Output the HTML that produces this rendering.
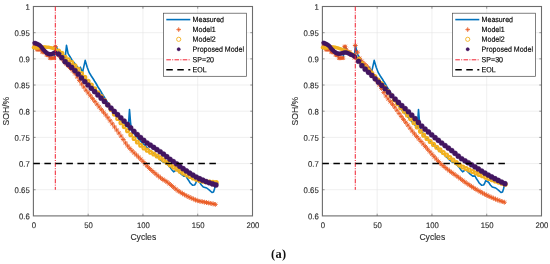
<!DOCTYPE html>
<html><head><meta charset="utf-8"><title>SOH prediction</title>
<style>
html,body{margin:0;padding:0;background:#fff}
svg{display:block}
text{font-family:"Liberation Sans",sans-serif;fill:#2a2a2a}
.t{font-size:8.1px;stroke:#2a2a2a;stroke-width:.12px}
.l{font-size:8.6px;stroke:#2a2a2a;stroke-width:.12px}
.lt{font-size:7.6px;fill:#000;stroke:#000;stroke-width:.15px}
.g{stroke:#e4e4e4;stroke-width:.6}
.box{fill:none;stroke:#6c6c6c;stroke-width:1.1}
.tk{stroke:#555;stroke-width:.6;fill:none}
.bl{fill:none;stroke:#0072bd;stroke-width:1.6;stroke-linejoin:round}
.or{fill:none;stroke:#ea5a22;stroke-width:.9}
.ye circle{fill:none;stroke:#f2b01e;stroke-width:2.1}.ye1{fill:none;stroke:#f2b01e;stroke-width:.9}
.pu circle,circle.pu{fill:#421560;stroke:#421560;stroke-width:.3}
.sp{stroke:#f0202f;stroke-width:1;stroke-dasharray:4.6 1.3 1 1.3}
.eol{stroke:#000;stroke-width:1.6;stroke-dasharray:6.5 4.5}
.lg{fill:#fff;stroke:#4a4a4a;stroke-width:.7}
.cap{font-family:"Liberation Serif",serif;font-weight:bold;font-size:12.4px;letter-spacing:.4px;fill:#111}
</style></head><body>
<svg width="550" height="264" viewBox="0 0 550 264">
<rect width="550" height="264" fill="#fff"/>
<g transform="translate(0,0)">
<line x1="88.17" y1="6.5" x2="88.17" y2="215.9" class="g"/>
<line x1="142.95" y1="6.5" x2="142.95" y2="215.9" class="g"/>
<line x1="197.72" y1="6.5" x2="197.72" y2="215.9" class="g"/>
<line x1="33.4" y1="189.72" x2="252.5" y2="189.72" class="g"/>
<line x1="33.4" y1="163.55" x2="252.5" y2="163.55" class="g"/>
<line x1="33.4" y1="137.38" x2="252.5" y2="137.38" class="g"/>
<line x1="33.4" y1="111.2" x2="252.5" y2="111.2" class="g"/>
<line x1="33.4" y1="85.03" x2="252.5" y2="85.03" class="g"/>
<line x1="33.4" y1="58.85" x2="252.5" y2="58.85" class="g"/>
<line x1="33.4" y1="32.68" x2="252.5" y2="32.68" class="g"/>
<rect x="33.4" y="6.5" width="219.1" height="209.4" class="box"/>
<path d="M88.17 215.9v-2.2M88.17 6.5v2.2M142.95 215.9v-2.2M142.95 6.5v2.2M197.72 215.9v-2.2M197.72 6.5v2.2M33.4 189.72h2.2M252.5 189.72h-2.2M33.4 163.55h2.2M252.5 163.55h-2.2M33.4 137.38h2.2M252.5 137.38h-2.2M33.4 111.2h2.2M252.5 111.2h-2.2M33.4 85.03h2.2M252.5 85.03h-2.2M33.4 58.85h2.2M252.5 58.85h-2.2M33.4 32.68h2.2M252.5 32.68h-2.2" class="tk"/>
<text transform="translate(33.8,228) scale(0.96,1) rotate(0.05)" class="t" text-anchor="middle">0</text>
<text transform="translate(88.58,228) scale(0.96,1) rotate(0.05)" class="t" text-anchor="middle">50</text>
<text transform="translate(143.35,228) scale(0.96,1) rotate(0.05)" class="t" text-anchor="middle">100</text>
<text transform="translate(198.12,228) scale(0.96,1) rotate(0.05)" class="t" text-anchor="middle">150</text>
<text transform="translate(252.9,228) scale(0.96,1) rotate(0.05)" class="t" text-anchor="middle">200</text>
<text transform="translate(29.7,219.2) scale(0.96,1) rotate(0.05)" class="t" text-anchor="end">0.6</text>
<text transform="translate(29.7,193.03) scale(0.96,1) rotate(0.05)" class="t" text-anchor="end">0.65</text>
<text transform="translate(29.7,166.85) scale(0.96,1) rotate(0.05)" class="t" text-anchor="end">0.7</text>
<text transform="translate(29.7,140.68) scale(0.96,1) rotate(0.05)" class="t" text-anchor="end">0.75</text>
<text transform="translate(29.7,114.5) scale(0.96,1) rotate(0.05)" class="t" text-anchor="end">0.8</text>
<text transform="translate(29.7,88.33) scale(0.96,1) rotate(0.05)" class="t" text-anchor="end">0.85</text>
<text transform="translate(29.7,62.15) scale(0.96,1) rotate(0.05)" class="t" text-anchor="end">0.9</text>
<text transform="translate(29.7,35.98) scale(0.96,1) rotate(0.05)" class="t" text-anchor="end">0.95</text>
<text transform="translate(29.7,9.8) scale(0.96,1) rotate(0.05)" class="t" text-anchor="end">1</text>
<text x="143.3" y="239.6" class="l" text-anchor="middle">Cycles</text>
<text transform="translate(8.9,111.2) rotate(-90)" class="l" text-anchor="middle">SOH/%</text>
<polyline class="bl" points="34.5,44.03 35.59,46.7 36.69,49.58 37.78,49.58 38.88,49.79 39.97,49.48 41.07,49.64 42.16,52.1 43.26,52.36 44.35,52.41 45.45,52.41 46.55,55.13 47.64,55.24 48.74,55.34 49.83,58.17 50.93,58.27 52.02,58.17 53.12,58.01 54.21,58.12 55.31,46.55 56.41,46.5 57.5,49.43 58.6,52.1 59.69,52.25 60.79,52.15 61.88,55.13 62.98,55.08 64.07,55.29 65.17,57.8 66.5,45.4 68.1,53.6 70.2,57 72.2,60.4 75,63.8 77,66.5 79,68.6 80.4,67.2 81.5,70 82.5,72.7 85.2,60.4 87.2,67.2 89.3,72.7 91.3,76 93,78.5 94.5,81 96.25,83.75 98,87 100,90 102,93.5 104,96.7 106,100 108,103.5 112,109 118,116 124,123 128.3,127.5 129.5,109.5 130.5,122 131.5,130 136,136 141,141.5 146,146.5 150,150.5 156,155.5 160,159.5 164,162.5 166,161.8 168,165 170.2,167.4 172,170 173.6,171.8 175.5,170.5 177.1,170 179,172 181.5,174.4 184.1,176.3 185.8,175.5 187,178 188.5,180.2 190.2,183 192.5,185.2 194.6,185 195.6,183.5 196.6,180.8 198,181.2 199.8,182.5 201.4,185 203.3,187 206.7,188 209.4,190.2 212,192.5 213.5,192 214.5,189 215.3,185.5"/>
<path class="or" style="stroke-width:.75" d="M32.5 44.03h4M34.5 42.03v4M32.8 42.34l3.39 3.39M32.8 45.73l3.39 -3.39M33.59 46.7h4M35.59 44.7v4M33.89 45.01l3.39 3.39M33.89 48.4l3.39 -3.39M34.69 49.58h4M36.69 47.58v4M34.99 47.89l3.39 3.39M34.99 51.28l3.39 -3.39M35.78 49.58h4M37.78 47.58v4M36.08 47.89l3.39 3.39M36.08 51.28l3.39 -3.39M36.88 49.79h4M38.88 47.79v4M37.18 48.1l3.39 3.39M37.18 51.49l3.39 -3.39M37.97 49.48h4M39.97 47.48v4M38.28 47.78l3.39 3.39M38.28 51.18l3.39 -3.39M39.07 49.64h4M41.07 47.64v4M39.37 47.94l3.39 3.39M39.37 51.33l3.39 -3.39M40.16 52.1h4M42.16 50.1v4M40.47 50.4l3.39 3.39M40.47 53.79l3.39 -3.39M41.26 52.36h4M43.26 50.36v4M41.56 50.66l3.39 3.39M41.56 54.06l3.39 -3.39M42.35 52.41h4M44.35 50.41v4M42.66 50.71l3.39 3.39M42.66 54.11l3.39 -3.39M43.45 52.41h4M45.45 50.41v4M43.75 50.71l3.39 3.39M43.75 54.11l3.39 -3.39M44.55 55.13h4M46.55 53.13v4M44.85 53.44l3.39 3.39M44.85 56.83l3.39 -3.39M45.64 55.24h4M47.64 53.24v4M45.94 53.54l3.39 3.39M45.94 56.93l3.39 -3.39M46.74 55.34h4M48.74 53.34v4M47.04 53.65l3.39 3.39M47.04 57.04l3.39 -3.39M47.83 58.17h4M49.83 56.17v4M48.14 56.47l3.39 3.39M48.14 59.87l3.39 -3.39M48.93 58.27h4M50.93 56.27v4M49.23 56.58l3.39 3.39M49.23 59.97l3.39 -3.39M50.02 58.17h4M52.02 56.17v4M50.33 56.47l3.39 3.39M50.33 59.87l3.39 -3.39M51.12 58.01h4M53.12 56.01v4M51.42 56.32l3.39 3.39M51.42 59.71l3.39 -3.39M52.21 58.12h4M54.21 56.12v4M52.52 56.42l3.39 3.39M52.52 59.81l3.39 -3.39"/>
<path class="or" d="M52.91 46.55h4.8M55.31 44.15v4.8M53.61 44.85l3.39 3.39M53.61 48.24l3.39 -3.39M55.11 54.01h4.8M57.51 51.61v4.8M55.81 52.31l3.39 3.39M55.81 55.71l3.39 -3.39M57.3 56.2h4.8M59.7 53.8v4.8M58 54.5l3.39 3.39M58 57.89l3.39 -3.39M59.49 58.68h4.8M61.89 56.28v4.8M60.19 56.98l3.39 3.39M60.19 60.37l3.39 -3.39M61.68 61.34h4.8M64.08 58.94v4.8M62.38 59.64l3.39 3.39M62.38 63.04l3.39 -3.39M63.87 64.08h4.8M66.27 61.68v4.8M64.58 62.38l3.39 3.39M64.58 65.78l3.39 -3.39M66.06 66.36h4.8M68.46 63.96v4.8M66.77 64.67l3.39 3.39M66.77 68.06l3.39 -3.39M68.26 68.45h4.8M70.66 66.05v4.8M68.96 66.75l3.39 3.39M68.96 70.14l3.39 -3.39M70.45 70.8h4.8M72.85 68.4v4.8M71.15 69.11l3.39 3.39M71.15 72.5l3.39 -3.39M72.64 73.65h4.8M75.04 71.25v4.8M73.34 71.95l3.39 3.39M73.34 75.35l3.39 -3.39M74.83 77.08h4.8M77.23 74.68v4.8M75.53 75.38l3.39 3.39M75.53 78.78l3.39 -3.39M77.02 80.56h4.8M79.42 78.16v4.8M77.73 78.86l3.39 3.39M77.73 82.26l3.39 -3.39M79.21 83.97h4.8M81.61 81.57v4.8M79.92 82.27l3.39 3.39M79.92 85.66l3.39 -3.39M81.41 87.01h4.8M83.81 84.61v4.8M82.11 85.31l3.39 3.39M82.11 88.7l3.39 -3.39M83.6 90.22h4.8M86 87.82v4.8M84.3 88.52l3.39 3.39M84.3 91.91l3.39 -3.39M85.79 92.94h4.8M88.19 90.54v4.8M86.49 91.24l3.39 3.39M86.49 94.64l3.39 -3.39M87.98 95.74h4.8M90.38 93.34v4.8M88.68 94.04l3.39 3.39M88.68 97.44l3.39 -3.39M90.17 98.59h4.8M92.57 96.19v4.8M90.87 96.89l3.39 3.39M90.87 100.29l3.39 -3.39M92.36 101.4h4.8M94.76 99v4.8M93.07 99.7l3.39 3.39M93.07 103.09l3.39 -3.39M94.55 104.18h4.8M96.95 101.78v4.8M95.26 102.49l3.39 3.39M95.26 105.88l3.39 -3.39M96.75 106.94h4.8M99.15 104.54v4.8M97.45 105.24l3.39 3.39M97.45 108.64l3.39 -3.39M98.94 109.63h4.8M101.34 107.23v4.8M99.64 107.93l3.39 3.39M99.64 111.33l3.39 -3.39M101.13 112.24h4.8M103.53 109.84v4.8M101.83 110.54l3.39 3.39M101.83 113.93l3.39 -3.39M103.32 114.88h4.8M105.72 112.48v4.8M104.02 113.18l3.39 3.39M104.02 116.58l3.39 -3.39M105.51 117.71h4.8M107.91 115.31v4.8M106.22 116.01l3.39 3.39M106.22 119.41l3.39 -3.39M107.7 120.75h4.8M110.1 118.35v4.8M108.41 119.05l3.39 3.39M108.41 122.44l3.39 -3.39M109.9 123.82h4.8M112.3 121.42v4.8M110.6 122.12l3.39 3.39M110.6 125.51l3.39 -3.39M112.09 126.92h4.8M114.49 124.52v4.8M112.79 125.22l3.39 3.39M112.79 128.62l3.39 -3.39M114.28 129.99h4.8M116.68 127.59v4.8M114.98 128.29l3.39 3.39M114.98 131.68l3.39 -3.39M116.47 133.04h4.8M118.87 130.64v4.8M117.17 131.34l3.39 3.39M117.17 134.73l3.39 -3.39M118.66 136.15h4.8M121.06 133.75v4.8M119.37 134.46l3.39 3.39M119.37 137.85l3.39 -3.39M120.85 139.5h4.8M123.25 137.1v4.8M121.56 137.81l3.39 3.39M121.56 141.2l3.39 -3.39M123.05 142.89h4.8M125.45 140.49v4.8M123.75 141.2l3.39 3.39M123.75 144.59l3.39 -3.39M125.24 145.82h4.8M127.64 143.42v4.8M125.94 144.12l3.39 3.39M125.94 147.51l3.39 -3.39M127.43 148.4h4.8M129.83 146v4.8M128.13 146.7l3.39 3.39M128.13 150.1l3.39 -3.39M129.62 150.78h4.8M132.02 148.38v4.8M130.32 149.08l3.39 3.39M130.32 152.48l3.39 -3.39M131.81 153h4.8M134.21 150.6v4.8M132.51 151.3l3.39 3.39M132.51 154.7l3.39 -3.39M134 155.02h4.8M136.4 152.62v4.8M134.71 153.32l3.39 3.39M134.71 156.72l3.39 -3.39M136.19 157.07h4.8M138.59 154.67v4.8M136.9 155.37l3.39 3.39M136.9 158.77l3.39 -3.39M138.39 159.17h4.8M140.79 156.77v4.8M139.09 157.48l3.39 3.39M139.09 160.87l3.39 -3.39M140.58 161.38h4.8M142.98 158.98v4.8M141.28 159.68l3.39 3.39M141.28 163.08l3.39 -3.39M142.77 163.8h4.8M145.17 161.4v4.8M143.47 162.1l3.39 3.39M143.47 165.5l3.39 -3.39M144.96 166.31h4.8M147.36 163.91v4.8M145.66 164.61l3.39 3.39M145.66 168.01l3.39 -3.39M147.15 168.52h4.8M149.55 166.12v4.8M147.86 166.82l3.39 3.39M147.86 170.22l3.39 -3.39M149.34 170.51h4.8M151.74 168.11v4.8M150.05 168.81l3.39 3.39M150.05 172.2l3.39 -3.39M151.54 172.38h4.8M153.94 169.98v4.8M152.24 170.69l3.39 3.39M152.24 174.08l3.39 -3.39M153.73 174.24h4.8M156.13 171.84v4.8M154.43 172.54l3.39 3.39M154.43 175.94l3.39 -3.39M155.92 176.07h4.8M158.32 173.67v4.8M156.62 174.37l3.39 3.39M156.62 177.77l3.39 -3.39M158.11 177.79h4.8M160.51 175.39v4.8M158.81 176.09l3.39 3.39M158.81 179.48l3.39 -3.39M160.3 179.29h4.8M162.7 176.89v4.8M161.01 177.59l3.39 3.39M161.01 180.98l3.39 -3.39M162.49 180.6h4.8M164.89 178.2v4.8M163.2 178.9l3.39 3.39M163.2 182.29l3.39 -3.39M164.69 182.06h4.8M167.09 179.66v4.8M165.39 180.36l3.39 3.39M165.39 183.76l3.39 -3.39M166.88 183.75h4.8M169.28 181.35v4.8M167.58 182.05l3.39 3.39M167.58 185.44l3.39 -3.39M169.07 185.5h4.8M171.47 183.1v4.8M169.77 183.8l3.39 3.39M169.77 187.19l3.39 -3.39M171.26 187.29h4.8M173.66 184.89v4.8M171.96 185.59l3.39 3.39M171.96 188.99l3.39 -3.39M173.45 189.12h4.8M175.85 186.72v4.8M174.15 187.42l3.39 3.39M174.15 190.82l3.39 -3.39M175.64 190.79h4.8M178.04 188.39v4.8M176.35 189.09l3.39 3.39M176.35 192.49l3.39 -3.39M177.83 192.22h4.8M180.23 189.82v4.8M178.54 190.53l3.39 3.39M178.54 193.92l3.39 -3.39M180.03 193.53h4.8M182.43 191.13v4.8M180.73 191.83l3.39 3.39M180.73 195.22l3.39 -3.39M182.22 194.75h4.8M184.62 192.35v4.8M182.92 193.05l3.39 3.39M182.92 196.44l3.39 -3.39M184.41 195.92h4.8M186.81 193.52v4.8M185.11 194.22l3.39 3.39M185.11 197.62l3.39 -3.39M186.6 197.03h4.8M189 194.63v4.8M187.3 195.34l3.39 3.39M187.3 198.73l3.39 -3.39M188.79 198.06h4.8M191.19 195.66v4.8M189.5 196.37l3.39 3.39M189.5 199.76l3.39 -3.39M190.98 199.03h4.8M193.38 196.63v4.8M191.69 197.34l3.39 3.39M191.69 200.73l3.39 -3.39M193.18 199.95h4.8M195.58 197.55v4.8M193.88 198.25l3.39 3.39M193.88 201.64l3.39 -3.39M195.37 200.71h4.8M197.77 198.31v4.8M196.07 199.01l3.39 3.39M196.07 202.4l3.39 -3.39M197.56 201.26h4.8M199.96 198.86v4.8M198.26 199.56l3.39 3.39M198.26 202.96l3.39 -3.39M199.75 201.71h4.8M202.15 199.31v4.8M200.45 200.01l3.39 3.39M200.45 203.4l3.39 -3.39M201.94 202.13h4.8M204.34 199.73v4.8M202.65 200.43l3.39 3.39M202.65 203.83l3.39 -3.39M204.13 202.56h4.8M206.53 200.16v4.8M204.84 200.86l3.39 3.39M204.84 204.25l3.39 -3.39M206.33 202.97h4.8M208.73 200.57v4.8M207.03 201.27l3.39 3.39M207.03 204.66l3.39 -3.39M208.52 203.4h4.8M210.92 201v4.8M209.22 201.7l3.39 3.39M209.22 205.09l3.39 -3.39M210.71 203.89h4.8M213.11 201.49v4.8M211.41 202.19l3.39 3.39M211.41 205.58l3.39 -3.39M212.9 204.42h4.8M215.3 202.02v4.8M213.6 202.72l3.39 3.39M213.6 206.12l3.39 -3.39"/>
<g class="ye">
<circle cx="33.4" cy="47.6" r="1.1" style="stroke-width:1.3"/>
<circle cx="34.5" cy="47.85" r="1.1" style="stroke-width:1.3"/>
<circle cx="35.59" cy="47.99" r="1.1" style="stroke-width:1.3"/>
<circle cx="36.69" cy="47.98" r="1.1" style="stroke-width:1.3"/>
<circle cx="37.78" cy="47.88" r="1.1" style="stroke-width:1.3"/>
<circle cx="38.88" cy="47.74" r="1.1" style="stroke-width:1.3"/>
<circle cx="39.97" cy="47.41" r="1.1" style="stroke-width:1.3"/>
<circle cx="41.07" cy="47.09" r="1.1" style="stroke-width:1.3"/>
<circle cx="42.16" cy="47" r="1.1" style="stroke-width:1.3"/>
<circle cx="43.26" cy="47.02" r="1.1" style="stroke-width:1.3"/>
<circle cx="44.35" cy="47.06" r="1.1" style="stroke-width:1.3"/>
<circle cx="45.45" cy="47.11" r="1.1" style="stroke-width:1.3"/>
<circle cx="46.55" cy="47.18" r="1.1" style="stroke-width:1.3"/>
<circle cx="47.64" cy="47.26" r="1.1" style="stroke-width:1.3"/>
<circle cx="48.74" cy="47.35" r="1.1" style="stroke-width:1.3"/>
<circle cx="49.83" cy="47.53" r="1.1" style="stroke-width:1.3"/>
<circle cx="50.93" cy="47.77" r="1.1" style="stroke-width:1.3"/>
<circle cx="52.02" cy="48.08" r="1.1" style="stroke-width:1.3"/>
<circle cx="53.12" cy="48.42" r="1.1" style="stroke-width:1.3"/>
<circle cx="54.21" cy="48.8" r="1.1" style="stroke-width:1.3"/>
<circle cx="55.31" cy="49.23" r="1.1" style="stroke-width:1.3"/>
<circle cx="58.55" cy="51.07" r="1.5"/>
<circle cx="61.83" cy="53.22" r="1.5"/>
<circle cx="65.12" cy="57.32" r="1.5"/>
<circle cx="68.4" cy="59.75" r="1.5"/>
<circle cx="71.69" cy="62.43" r="1.5"/>
<circle cx="74.97" cy="65.71" r="1.5"/>
<circle cx="78.26" cy="69.4" r="1.5"/>
<circle cx="81.54" cy="73.45" r="1.5"/>
<circle cx="84.82" cy="77.41" r="1.5"/>
<circle cx="88.11" cy="81.3" r="1.5"/>
<circle cx="91.39" cy="85.12" r="1.5"/>
<circle cx="94.68" cy="88.9" r="1.5"/>
<circle cx="97.96" cy="92.75" r="1.5"/>
<circle cx="101.25" cy="96.64" r="1.5"/>
<circle cx="104.53" cy="100.64" r="1.5"/>
<circle cx="107.82" cy="104.87" r="1.5"/>
<circle cx="111.1" cy="109.51" r="1.5"/>
<circle cx="114.38" cy="114.08" r="1.5"/>
<circle cx="117.67" cy="118.52" r="1.5"/>
<circle cx="120.95" cy="122.71" r="1.5"/>
<circle cx="124.24" cy="126.59" r="1.5"/>
<circle cx="127.52" cy="130.65" r="1.5"/>
<circle cx="130.81" cy="134.75" r="1.5"/>
<circle cx="134.09" cy="138.55" r="1.5"/>
<circle cx="137.37" cy="142.06" r="1.5"/>
<circle cx="140.66" cy="145.18" r="1.5"/>
<circle cx="143.94" cy="147.96" r="1.5"/>
<circle cx="147.23" cy="150.31" r="1.5"/>
<circle cx="150.51" cy="152.21" r="1.5"/>
<circle cx="153.8" cy="154.05" r="1.5"/>
<circle cx="157.08" cy="155.93" r="1.5"/>
<circle cx="160.37" cy="157.92" r="1.5"/>
<circle cx="163.65" cy="160.11" r="1.5"/>
<circle cx="166.93" cy="162.61" r="1.5"/>
<circle cx="170.22" cy="165.04" r="1.5"/>
<circle cx="173.5" cy="167.11" r="1.5"/>
<circle cx="176.79" cy="169.08" r="1.5"/>
<circle cx="180.07" cy="171.15" r="1.5"/>
<circle cx="183.36" cy="173.1" r="1.5"/>
<circle cx="186.64" cy="174.87" r="1.5"/>
<circle cx="189.92" cy="176.52" r="1.5"/>
<circle cx="193.21" cy="178.02" r="1.5"/>
<circle cx="196.49" cy="179.32" r="1.5"/>
<circle cx="199.78" cy="180.38" r="1.5"/>
<circle cx="203.06" cy="181.17" r="1.5"/>
<circle cx="206.35" cy="181.75" r="1.5"/>
<circle cx="209.63" cy="182.15" r="1.5"/>
<circle cx="212.92" cy="182.4" r="1.5"/>
<circle cx="216.2" cy="182.5" r="1.5"/>
</g>
<g class="pu">
<circle cx="34.5" cy="42.9" r="2.0"/>
<circle cx="35.59" cy="43.23" r="2.0"/>
<circle cx="36.69" cy="43.66" r="2.0"/>
<circle cx="37.78" cy="44.18" r="2.0"/>
<circle cx="38.88" cy="44.81" r="2.0"/>
<circle cx="39.97" cy="45.58" r="2.0"/>
<circle cx="41.07" cy="46.67" r="2.0"/>
<circle cx="42.16" cy="48.06" r="2.0"/>
<circle cx="43.26" cy="49.45" r="2.0"/>
<circle cx="44.35" cy="50.65" r="2.0"/>
<circle cx="45.45" cy="51.85" r="2.0"/>
<circle cx="46.55" cy="52.89" r="2.0"/>
<circle cx="47.64" cy="53.56" r="2.0"/>
<circle cx="48.74" cy="54.01" r="2.0"/>
<circle cx="49.83" cy="54.32" r="2.0"/>
<circle cx="50.93" cy="54.37" r="2.0"/>
<circle cx="52.02" cy="53.97" r="2.0"/>
<circle cx="53.12" cy="53.44" r="2.0"/>
<circle cx="54.21" cy="52.76" r="2.0"/>
<circle cx="55.31" cy="52.52" r="2.0"/>
<circle cx="58.54" cy="54.04" r="2.6"/>
<circle cx="61.82" cy="57.69" r="2.6"/>
<circle cx="65.1" cy="61.7" r="2.6"/>
<circle cx="68.38" cy="64.53" r="2.6"/>
<circle cx="71.66" cy="67.4" r="2.6"/>
<circle cx="74.93" cy="70.61" r="2.6"/>
<circle cx="78.21" cy="74.12" r="2.6"/>
<circle cx="81.49" cy="77.92" r="2.6"/>
<circle cx="84.77" cy="81.57" r="2.6"/>
<circle cx="88.05" cy="85.01" r="2.6"/>
<circle cx="91.33" cy="88.36" r="2.6"/>
<circle cx="94.6" cy="91.61" r="2.6"/>
<circle cx="97.88" cy="94.88" r="2.6"/>
<circle cx="101.16" cy="98.14" r="2.6"/>
<circle cx="104.44" cy="101.45" r="2.6"/>
<circle cx="107.72" cy="104.82" r="2.6"/>
<circle cx="111" cy="108.19" r="2.6"/>
<circle cx="114.27" cy="111.46" r="2.6"/>
<circle cx="117.55" cy="114.67" r="2.6"/>
<circle cx="120.83" cy="117.83" r="2.6"/>
<circle cx="124.11" cy="121.01" r="2.6"/>
<circle cx="127.39" cy="124.4" r="2.6"/>
<circle cx="130.67" cy="127.92" r="2.6"/>
<circle cx="133.94" cy="131.26" r="2.6"/>
<circle cx="137.22" cy="134.49" r="2.6"/>
<circle cx="140.5" cy="137.54" r="2.6"/>
<circle cx="143.78" cy="140.42" r="2.6"/>
<circle cx="147.06" cy="143.01" r="2.6"/>
<circle cx="150.33" cy="145.2" r="2.6"/>
<circle cx="153.61" cy="147.34" r="2.6"/>
<circle cx="156.89" cy="149.53" r="2.6"/>
<circle cx="160.17" cy="151.74" r="2.6"/>
<circle cx="163.45" cy="154.08" r="2.6"/>
<circle cx="166.73" cy="156.69" r="2.6"/>
<circle cx="170" cy="159.28" r="2.6"/>
<circle cx="173.28" cy="161.57" r="2.6"/>
<circle cx="176.56" cy="163.84" r="2.6"/>
<circle cx="179.84" cy="166.31" r="2.6"/>
<circle cx="183.12" cy="168.71" r="2.6"/>
<circle cx="186.4" cy="170.93" r="2.6"/>
<circle cx="189.67" cy="173.08" r="2.6"/>
<circle cx="192.95" cy="175.12" r="2.6"/>
<circle cx="196.23" cy="177.01" r="2.6"/>
<circle cx="199.51" cy="178.7" r="2.6"/>
<circle cx="202.79" cy="180.2" r="2.6"/>
<circle cx="206.07" cy="181.55" r="2.6"/>
<circle cx="209.34" cy="182.77" r="2.6"/>
<circle cx="212.62" cy="183.92" r="2.6"/>
<circle cx="215.9" cy="184.97" r="2.6"/>
</g>
<line x1="55.31" y1="6.5" x2="55.31" y2="189.8" class="sp"/>
<line x1="33.4" y1="163.55" x2="216" y2="163.55" class="eol"/>
<rect x="163.5" y="13.2" width="83" height="63.1" class="lg"/>
<text transform="translate(192.6,22.1) scale(0.93,1) rotate(0.05)" class="lt" text-anchor="start">Measured</text>
<text transform="translate(192.6,32.1) scale(0.93,1) rotate(0.05)" class="lt" text-anchor="start">Model1</text>
<text transform="translate(192.6,41.8) scale(0.93,1) rotate(0.05)" class="lt" text-anchor="start">Model2</text>
<text transform="translate(192.6,51.8) scale(0.93,1) rotate(0.05)" class="lt" text-anchor="start">Proposed Model</text>
<text transform="translate(192.6,62.3) scale(0.93,1) rotate(0.05)" class="lt" text-anchor="start">SP=20</text>
<text transform="translate(192.6,72.2) scale(0.93,1) rotate(0.05)" class="lt" text-anchor="start">EOL</text>
<line x1="166.3" y1="19.6" x2="190.3" y2="19.6" class="bl"/>
<path class="or" style="stroke-width:.85" d="M176.4 29.6h4.6M178.7 27.3v4.6"/><path class="or" style="stroke-width:.45" d="M177.2 28.1l3 3M177.2 31.1l3 -3"/>
<circle cx="178.7" cy="39.3" r="2.1" class="ye1"/>
<circle cx="178.7" cy="49.3" r="1.7" class="pu"/>
<line x1="166.3" y1="59.8" x2="190.3" y2="59.8" class="sp"/>
<line x1="166.3" y1="69.7" x2="190.3" y2="69.7" class="eol"/>
</g>
<g transform="translate(289,0)">
<line x1="88.17" y1="6.5" x2="88.17" y2="215.9" class="g"/>
<line x1="142.95" y1="6.5" x2="142.95" y2="215.9" class="g"/>
<line x1="197.72" y1="6.5" x2="197.72" y2="215.9" class="g"/>
<line x1="33.4" y1="189.72" x2="252.5" y2="189.72" class="g"/>
<line x1="33.4" y1="163.55" x2="252.5" y2="163.55" class="g"/>
<line x1="33.4" y1="137.38" x2="252.5" y2="137.38" class="g"/>
<line x1="33.4" y1="111.2" x2="252.5" y2="111.2" class="g"/>
<line x1="33.4" y1="85.03" x2="252.5" y2="85.03" class="g"/>
<line x1="33.4" y1="58.85" x2="252.5" y2="58.85" class="g"/>
<line x1="33.4" y1="32.68" x2="252.5" y2="32.68" class="g"/>
<rect x="33.4" y="6.5" width="219.1" height="209.4" class="box"/>
<path d="M88.17 215.9v-2.2M88.17 6.5v2.2M142.95 215.9v-2.2M142.95 6.5v2.2M197.72 215.9v-2.2M197.72 6.5v2.2M33.4 189.72h2.2M252.5 189.72h-2.2M33.4 163.55h2.2M252.5 163.55h-2.2M33.4 137.38h2.2M252.5 137.38h-2.2M33.4 111.2h2.2M252.5 111.2h-2.2M33.4 85.03h2.2M252.5 85.03h-2.2M33.4 58.85h2.2M252.5 58.85h-2.2M33.4 32.68h2.2M252.5 32.68h-2.2" class="tk"/>
<text transform="translate(33.8,228) scale(0.96,1) rotate(0.05)" class="t" text-anchor="middle">0</text>
<text transform="translate(88.58,228) scale(0.96,1) rotate(0.05)" class="t" text-anchor="middle">50</text>
<text transform="translate(143.35,228) scale(0.96,1) rotate(0.05)" class="t" text-anchor="middle">100</text>
<text transform="translate(198.12,228) scale(0.96,1) rotate(0.05)" class="t" text-anchor="middle">150</text>
<text transform="translate(252.9,228) scale(0.96,1) rotate(0.05)" class="t" text-anchor="middle">200</text>
<text transform="translate(29.7,219.2) scale(0.96,1) rotate(0.05)" class="t" text-anchor="end">0.6</text>
<text transform="translate(29.7,193.03) scale(0.96,1) rotate(0.05)" class="t" text-anchor="end">0.65</text>
<text transform="translate(29.7,166.85) scale(0.96,1) rotate(0.05)" class="t" text-anchor="end">0.7</text>
<text transform="translate(29.7,140.68) scale(0.96,1) rotate(0.05)" class="t" text-anchor="end">0.75</text>
<text transform="translate(29.7,114.5) scale(0.96,1) rotate(0.05)" class="t" text-anchor="end">0.8</text>
<text transform="translate(29.7,88.33) scale(0.96,1) rotate(0.05)" class="t" text-anchor="end">0.85</text>
<text transform="translate(29.7,62.15) scale(0.96,1) rotate(0.05)" class="t" text-anchor="end">0.9</text>
<text transform="translate(29.7,35.98) scale(0.96,1) rotate(0.05)" class="t" text-anchor="end">0.95</text>
<text transform="translate(29.7,9.8) scale(0.96,1) rotate(0.05)" class="t" text-anchor="end">1</text>
<text x="143.3" y="239.6" class="l" text-anchor="middle">Cycles</text>
<text transform="translate(8.9,111.2) rotate(-90)" class="l" text-anchor="middle">SOH/%</text>
<polyline class="bl" points="34.5,44.03 35.59,46.7 36.69,49.58 37.78,49.58 38.88,49.79 39.97,49.48 41.07,49.64 42.16,52.1 43.26,52.36 44.35,52.41 45.45,52.41 46.55,55.13 47.64,55.24 48.74,55.34 49.83,58.17 50.93,58.27 52.02,58.17 53.12,58.01 54.21,58.12 55.31,46.55 56.41,46.5 57.5,49.43 58.6,52.1 59.69,52.25 60.79,52.15 61.88,55.13 62.98,55.08 64.07,55.29 65.17,57.8 66.5,45.4 68.1,53.6 70.2,57 72.2,60.4 75,63.8 77,66.5 79,68.6 80.4,67.2 81.5,70 82.5,72.7 85.2,60.4 87.2,67.2 89.3,72.7 91.3,76 93,78.5 94.5,81 96.25,83.75 98,87 100,90 102,93.5 104,96.7 106,100 108,103.5 112,109 118,116 124,123 128.3,127.5 129.5,109.5 130.5,122 131.5,130 136,136 141,141.5 146,146.5 150,150.5 156,155.5 160,159.5 164,162.5 166,161.8 168,165 170.2,167.4 172,170 173.6,171.8 175.5,170.5 177.1,170 179,172 181.5,174.4 184.1,176.3 185.8,175.5 187,178 188.5,180.2 190.2,183 192.5,185.2 194.6,185 195.6,183.5 196.6,180.8 198,181.2 199.8,182.5 201.4,185 203.3,187 206.7,188 209.4,190.2 212,192.5 213.5,192 214.5,189 215.3,185.5"/>
<path class="or" style="stroke-width:.75" d="M32.5 44.03h4M34.5 42.03v4M32.8 42.34l3.39 3.39M32.8 45.73l3.39 -3.39M33.59 46.7h4M35.59 44.7v4M33.89 45.01l3.39 3.39M33.89 48.4l3.39 -3.39M34.69 49.58h4M36.69 47.58v4M34.99 47.89l3.39 3.39M34.99 51.28l3.39 -3.39M35.78 49.58h4M37.78 47.58v4M36.08 47.89l3.39 3.39M36.08 51.28l3.39 -3.39M36.88 49.79h4M38.88 47.79v4M37.18 48.1l3.39 3.39M37.18 51.49l3.39 -3.39M37.97 49.48h4M39.97 47.48v4M38.28 47.78l3.39 3.39M38.28 51.18l3.39 -3.39M39.07 49.64h4M41.07 47.64v4M39.37 47.94l3.39 3.39M39.37 51.33l3.39 -3.39M40.16 52.1h4M42.16 50.1v4M40.47 50.4l3.39 3.39M40.47 53.79l3.39 -3.39M41.26 52.36h4M43.26 50.36v4M41.56 50.66l3.39 3.39M41.56 54.06l3.39 -3.39M42.35 52.41h4M44.35 50.41v4M42.66 50.71l3.39 3.39M42.66 54.11l3.39 -3.39M43.45 52.41h4M45.45 50.41v4M43.75 50.71l3.39 3.39M43.75 54.11l3.39 -3.39M44.55 55.13h4M46.55 53.13v4M44.85 53.44l3.39 3.39M44.85 56.83l3.39 -3.39M45.64 55.24h4M47.64 53.24v4M45.94 53.54l3.39 3.39M45.94 56.93l3.39 -3.39M46.74 55.34h4M48.74 53.34v4M47.04 53.65l3.39 3.39M47.04 57.04l3.39 -3.39M47.83 58.17h4M49.83 56.17v4M48.14 56.47l3.39 3.39M48.14 59.87l3.39 -3.39M48.93 58.27h4M50.93 56.27v4M49.23 56.58l3.39 3.39M49.23 59.97l3.39 -3.39M50.02 58.17h4M52.02 56.17v4M50.33 56.47l3.39 3.39M50.33 59.87l3.39 -3.39M51.12 58.01h4M53.12 56.01v4M51.42 56.32l3.39 3.39M51.42 59.71l3.39 -3.39M52.21 58.12h4M54.21 56.12v4M52.52 56.42l3.39 3.39M52.52 59.81l3.39 -3.39M53.31 46.55h4M55.31 44.55v4M53.61 44.85l3.39 3.39M53.61 48.24l3.39 -3.39M54.41 46.5h4M56.41 44.5v4M54.71 44.8l3.39 3.39M54.71 48.19l3.39 -3.39M55.5 49.43h4M57.5 47.43v4M55.8 47.73l3.39 3.39M55.8 51.12l3.39 -3.39M56.6 52.1h4M58.6 50.1v4M56.9 50.4l3.39 3.39M56.9 53.79l3.39 -3.39M57.69 52.25h4M59.69 50.25v4M57.99 50.56l3.39 3.39M57.99 53.95l3.39 -3.39M58.79 52.15h4M60.79 50.15v4M59.09 50.45l3.39 3.39M59.09 53.85l3.39 -3.39M59.88 55.13h4M61.88 53.13v4M60.19 53.44l3.39 3.39M60.19 56.83l3.39 -3.39M60.98 55.08h4M62.98 53.08v4M61.28 53.38l3.39 3.39M61.28 56.78l3.39 -3.39M62.07 55.29h4M64.07 53.29v4M62.38 53.59l3.39 3.39M62.38 56.99l3.39 -3.39M63.17 57.8h4M65.17 55.8v4M63.47 56.11l3.39 3.39M63.47 59.5l3.39 -3.39"/>
<path class="or" d="M63.87 45.5h4.8M66.27 43.1v4.8M64.57 43.8l3.39 3.39M64.57 47.2l3.39 -3.39M66.06 52.22h4.8M68.46 49.82v4.8M66.76 50.52l3.39 3.39M66.76 53.91l3.39 -3.39M68.25 58.34h4.8M70.65 55.94v4.8M68.96 56.64l3.39 3.39M68.96 60.04l3.39 -3.39M70.44 61.32h4.8M72.84 58.92v4.8M71.15 59.62l3.39 3.39M71.15 63.02l3.39 -3.39M72.64 63.55h4.8M75.04 61.15v4.8M73.34 61.86l3.39 3.39M73.34 65.25l3.39 -3.39M74.83 65.67h4.8M77.23 63.27v4.8M75.53 63.97l3.39 3.39M75.53 67.36l3.39 -3.39M77.02 68.22h4.8M79.42 65.82v4.8M77.72 66.52l3.39 3.39M77.72 69.91l3.39 -3.39M79.21 71.19h4.8M81.61 68.79v4.8M79.91 69.49l3.39 3.39M79.91 72.88l3.39 -3.39M81.4 74.43h4.8M83.8 72.03v4.8M82.11 72.73l3.39 3.39M82.11 76.13l3.39 -3.39M83.59 78.06h4.8M85.99 75.66v4.8M84.3 76.36l3.39 3.39M84.3 79.75l3.39 -3.39M85.79 81.55h4.8M88.19 79.15v4.8M86.49 79.86l3.39 3.39M86.49 83.25l3.39 -3.39M87.98 84.91h4.8M90.38 82.51v4.8M88.68 83.22l3.39 3.39M88.68 86.61l3.39 -3.39M90.17 88.47h4.8M92.57 86.07v4.8M90.87 86.77l3.39 3.39M90.87 90.17l3.39 -3.39M92.36 92.44h4.8M94.76 90.04v4.8M93.06 90.74l3.39 3.39M93.06 94.13l3.39 -3.39M94.55 95.92h4.8M96.95 93.52v4.8M95.26 94.22l3.39 3.39M95.26 97.61l3.39 -3.39M96.74 98.91h4.8M99.14 96.51v4.8M97.45 97.22l3.39 3.39M97.45 100.61l3.39 -3.39M98.94 101.68h4.8M101.34 99.28v4.8M99.64 99.99l3.39 3.39M99.64 103.38l3.39 -3.39M101.13 104.39h4.8M103.53 101.99v4.8M101.83 102.7l3.39 3.39M101.83 106.09l3.39 -3.39M103.32 107.21h4.8M105.72 104.81v4.8M104.02 105.52l3.39 3.39M104.02 108.91l3.39 -3.39M105.51 110.28h4.8M107.91 107.88v4.8M106.21 108.58l3.39 3.39M106.21 111.97l3.39 -3.39M107.7 113.42h4.8M110.1 111.02v4.8M108.41 111.73l3.39 3.39M108.41 115.12l3.39 -3.39M109.89 116.47h4.8M112.29 114.07v4.8M110.6 114.77l3.39 3.39M110.6 118.16l3.39 -3.39M112.09 119.45h4.8M114.49 117.05v4.8M112.79 117.75l3.39 3.39M112.79 121.14l3.39 -3.39M114.28 122.31h4.8M116.68 119.91v4.8M114.98 120.62l3.39 3.39M114.98 124.01l3.39 -3.39M116.47 125.16h4.8M118.87 122.76v4.8M117.17 123.46l3.39 3.39M117.17 126.86l3.39 -3.39M118.66 128.18h4.8M121.06 125.78v4.8M119.36 126.48l3.39 3.39M119.36 129.88l3.39 -3.39M120.85 131.12h4.8M123.25 128.72v4.8M121.56 129.43l3.39 3.39M121.56 132.82l3.39 -3.39M123.04 133.84h4.8M125.44 131.44v4.8M123.75 132.14l3.39 3.39M123.75 135.53l3.39 -3.39M125.24 136.43h4.8M127.64 134.03v4.8M125.94 134.74l3.39 3.39M125.94 138.13l3.39 -3.39M127.43 138.98h4.8M129.83 136.58v4.8M128.13 137.28l3.39 3.39M128.13 140.67l3.39 -3.39M129.62 141.52h4.8M132.02 139.12v4.8M130.32 139.82l3.39 3.39M130.32 143.22l3.39 -3.39M131.81 144.09h4.8M134.21 141.69v4.8M132.51 142.39l3.39 3.39M132.51 145.78l3.39 -3.39M134 146.65h4.8M136.4 144.25v4.8M134.7 144.95l3.39 3.39M134.7 148.34l3.39 -3.39M136.19 149.19h4.8M138.59 146.79v4.8M136.9 147.5l3.39 3.39M136.9 150.89l3.39 -3.39M138.39 151.72h4.8M140.79 149.32v4.8M139.09 150.02l3.39 3.39M139.09 153.42l3.39 -3.39M140.58 154.22h4.8M142.98 151.82v4.8M141.28 152.53l3.39 3.39M141.28 155.92l3.39 -3.39M142.77 156.69h4.8M145.17 154.29v4.8M143.47 154.99l3.39 3.39M143.47 158.39l3.39 -3.39M144.96 159.12h4.8M147.36 156.72v4.8M145.66 157.42l3.39 3.39M145.66 160.82l3.39 -3.39M147.15 161.53h4.8M149.55 159.13v4.8M147.85 159.84l3.39 3.39M147.85 163.23l3.39 -3.39M149.34 163.7h4.8M151.74 161.3v4.8M150.05 162l3.39 3.39M150.05 165.39l3.39 -3.39M151.53 165.65h4.8M153.93 163.25v4.8M152.24 163.95l3.39 3.39M152.24 167.34l3.39 -3.39M153.73 167.47h4.8M156.13 165.07v4.8M154.43 165.77l3.39 3.39M154.43 169.16l3.39 -3.39M155.92 169.2h4.8M158.32 166.8v4.8M156.62 167.5l3.39 3.39M156.62 170.9l3.39 -3.39M158.11 170.89h4.8M160.51 168.49v4.8M158.81 169.19l3.39 3.39M158.81 172.58l3.39 -3.39M160.3 172.49h4.8M162.7 170.09v4.8M161 170.79l3.39 3.39M161 174.18l3.39 -3.39M162.49 174.02h4.8M164.89 171.62v4.8M163.2 172.33l3.39 3.39M163.2 175.72l3.39 -3.39M164.68 175.56h4.8M167.08 173.16v4.8M165.39 173.86l3.39 3.39M165.39 177.26l3.39 -3.39M166.88 177.15h4.8M169.28 174.75v4.8M167.58 175.45l3.39 3.39M167.58 178.85l3.39 -3.39M169.07 178.78h4.8M171.47 176.38v4.8M169.77 177.09l3.39 3.39M169.77 180.48l3.39 -3.39M171.26 180.42h4.8M173.66 178.02v4.8M171.96 178.72l3.39 3.39M171.96 182.11l3.39 -3.39M173.45 182.01h4.8M175.85 179.61v4.8M174.15 180.31l3.39 3.39M174.15 183.71l3.39 -3.39M175.64 183.53h4.8M178.04 181.13v4.8M176.35 181.83l3.39 3.39M176.35 185.23l3.39 -3.39M177.83 184.98h4.8M180.23 182.58v4.8M178.54 183.29l3.39 3.39M178.54 186.68l3.39 -3.39M180.03 186.41h4.8M182.43 184.01v4.8M180.73 184.71l3.39 3.39M180.73 188.11l3.39 -3.39M182.22 187.81h4.8M184.62 185.41v4.8M182.92 186.11l3.39 3.39M182.92 189.5l3.39 -3.39M184.41 189.16h4.8M186.81 186.76v4.8M185.11 187.47l3.39 3.39M185.11 190.86l3.39 -3.39M186.6 190.47h4.8M189 188.07v4.8M187.3 188.78l3.39 3.39M187.3 192.17l3.39 -3.39M188.79 191.73h4.8M191.19 189.33v4.8M189.5 190.04l3.39 3.39M189.5 193.43l3.39 -3.39M190.98 192.94h4.8M193.38 190.54v4.8M191.69 191.24l3.39 3.39M191.69 194.63l3.39 -3.39M193.18 194.09h4.8M195.58 191.69v4.8M193.88 192.39l3.39 3.39M193.88 195.79l3.39 -3.39M195.37 195.2h4.8M197.77 192.8v4.8M196.07 193.5l3.39 3.39M196.07 196.9l3.39 -3.39M197.56 196.26h4.8M199.96 193.86v4.8M198.26 194.57l3.39 3.39M198.26 197.96l3.39 -3.39M199.75 197.27h4.8M202.15 194.87v4.8M200.45 195.58l3.39 3.39M200.45 198.97l3.39 -3.39M201.94 198.23h4.8M204.34 195.83v4.8M202.64 196.53l3.39 3.39M202.64 199.92l3.39 -3.39M204.13 199.12h4.8M206.53 196.72v4.8M204.84 197.43l3.39 3.39M204.84 200.82l3.39 -3.39M206.33 199.98h4.8M208.73 197.58v4.8M207.03 198.28l3.39 3.39M207.03 201.68l3.39 -3.39M208.52 200.8h4.8M210.92 198.4v4.8M209.22 199.1l3.39 3.39M209.22 202.49l3.39 -3.39M210.71 201.56h4.8M213.11 199.16v4.8M211.41 199.87l3.39 3.39M211.41 203.26l3.39 -3.39M212.9 202.28h4.8M215.3 199.88v4.8M213.6 200.58l3.39 3.39M213.6 203.98l3.39 -3.39"/>
<g class="ye">
<circle cx="33.4" cy="47.6" r="1.1" style="stroke-width:1.3"/>
<circle cx="34.5" cy="47.85" r="1.1" style="stroke-width:1.3"/>
<circle cx="35.59" cy="47.99" r="1.1" style="stroke-width:1.3"/>
<circle cx="36.69" cy="47.98" r="1.1" style="stroke-width:1.3"/>
<circle cx="37.78" cy="47.88" r="1.1" style="stroke-width:1.3"/>
<circle cx="38.88" cy="47.75" r="1.1" style="stroke-width:1.3"/>
<circle cx="39.97" cy="47.56" r="1.1" style="stroke-width:1.3"/>
<circle cx="41.07" cy="47.33" r="1.1" style="stroke-width:1.3"/>
<circle cx="42.16" cy="47.12" r="1.1" style="stroke-width:1.3"/>
<circle cx="43.26" cy="47.01" r="1.1" style="stroke-width:1.3"/>
<circle cx="44.35" cy="47.03" r="1.1" style="stroke-width:1.3"/>
<circle cx="45.45" cy="47.15" r="1.1" style="stroke-width:1.3"/>
<circle cx="46.55" cy="47.36" r="1.1" style="stroke-width:1.3"/>
<circle cx="47.64" cy="47.64" r="1.1" style="stroke-width:1.3"/>
<circle cx="48.74" cy="47.97" r="1.1" style="stroke-width:1.3"/>
<circle cx="49.83" cy="48.33" r="1.1" style="stroke-width:1.3"/>
<circle cx="50.93" cy="48.71" r="1.1" style="stroke-width:1.3"/>
<circle cx="52.02" cy="49.08" r="1.1" style="stroke-width:1.3"/>
<circle cx="53.12" cy="49.44" r="1.1" style="stroke-width:1.3"/>
<circle cx="54.21" cy="49.81" r="1.1" style="stroke-width:1.3"/>
<circle cx="55.31" cy="50.23" r="1.1" style="stroke-width:1.3"/>
<circle cx="56.41" cy="50.67" r="1.1" style="stroke-width:1.3"/>
<circle cx="57.5" cy="51.14" r="1.1" style="stroke-width:1.3"/>
<circle cx="58.6" cy="51.63" r="1.1" style="stroke-width:1.3"/>
<circle cx="59.69" cy="52.15" r="1.1" style="stroke-width:1.3"/>
<circle cx="60.79" cy="52.69" r="1.1" style="stroke-width:1.3"/>
<circle cx="61.88" cy="53.28" r="1.1" style="stroke-width:1.3"/>
<circle cx="62.98" cy="53.91" r="1.1" style="stroke-width:1.3"/>
<circle cx="64.07" cy="54.57" r="1.1" style="stroke-width:1.3"/>
<circle cx="65.17" cy="55.26" r="1.1" style="stroke-width:1.3"/>
<circle cx="66.27" cy="55.65" r="1.1" style="stroke-width:1.3"/>
<circle cx="69.48" cy="59.34" r="1.5"/>
<circle cx="72.74" cy="63.57" r="1.5"/>
<circle cx="76" cy="67" r="1.5"/>
<circle cx="79.26" cy="70.1" r="1.5"/>
<circle cx="82.52" cy="73.13" r="1.5"/>
<circle cx="85.78" cy="76.5" r="1.5"/>
<circle cx="89.04" cy="80.02" r="1.5"/>
<circle cx="92.3" cy="83.47" r="1.5"/>
<circle cx="95.56" cy="87.19" r="1.5"/>
<circle cx="98.82" cy="91.29" r="1.5"/>
<circle cx="102.08" cy="95.5" r="1.5"/>
<circle cx="105.35" cy="99.7" r="1.5"/>
<circle cx="108.61" cy="103.78" r="1.5"/>
<circle cx="111.87" cy="107.65" r="1.5"/>
<circle cx="115.13" cy="111.29" r="1.5"/>
<circle cx="118.39" cy="114.89" r="1.5"/>
<circle cx="121.65" cy="118.73" r="1.5"/>
<circle cx="124.91" cy="122.75" r="1.5"/>
<circle cx="128.17" cy="127.03" r="1.5"/>
<circle cx="131.43" cy="131.33" r="1.5"/>
<circle cx="134.69" cy="135.14" r="1.5"/>
<circle cx="137.95" cy="138.45" r="1.5"/>
<circle cx="141.21" cy="141.47" r="1.5"/>
<circle cx="144.47" cy="144.38" r="1.5"/>
<circle cx="147.73" cy="147.2" r="1.5"/>
<circle cx="150.99" cy="149.9" r="1.5"/>
<circle cx="154.25" cy="152.52" r="1.5"/>
<circle cx="157.51" cy="155.03" r="1.5"/>
<circle cx="160.77" cy="157.5" r="1.5"/>
<circle cx="164.03" cy="160.06" r="1.5"/>
<circle cx="167.29" cy="162.67" r="1.5"/>
<circle cx="170.55" cy="165.09" r="1.5"/>
<circle cx="173.81" cy="167.04" r="1.5"/>
<circle cx="177.07" cy="168.54" r="1.5"/>
<circle cx="180.34" cy="169.94" r="1.5"/>
<circle cx="183.6" cy="171.46" r="1.5"/>
<circle cx="186.86" cy="172.95" r="1.5"/>
<circle cx="190.12" cy="174.4" r="1.5"/>
<circle cx="193.38" cy="175.8" r="1.5"/>
<circle cx="196.64" cy="177.15" r="1.5"/>
<circle cx="199.9" cy="178.46" r="1.5"/>
<circle cx="203.16" cy="179.72" r="1.5"/>
<circle cx="206.42" cy="180.94" r="1.5"/>
<circle cx="209.68" cy="182.11" r="1.5"/>
<circle cx="212.94" cy="183.23" r="1.5"/>
<circle cx="216.2" cy="184.31" r="1.5"/>
</g>
<g class="pu">
<circle cx="34.5" cy="42.87" r="2.0"/>
<circle cx="35.59" cy="43.19" r="2.0"/>
<circle cx="36.69" cy="43.66" r="2.0"/>
<circle cx="37.78" cy="44.26" r="2.0"/>
<circle cx="38.88" cy="44.92" r="2.0"/>
<circle cx="39.97" cy="45.81" r="2.0"/>
<circle cx="41.07" cy="47.06" r="2.0"/>
<circle cx="42.16" cy="48.43" r="2.0"/>
<circle cx="43.26" cy="49.68" r="2.0"/>
<circle cx="44.35" cy="50.69" r="2.0"/>
<circle cx="45.45" cy="51.71" r="2.0"/>
<circle cx="46.55" cy="52.6" r="2.0"/>
<circle cx="47.64" cy="53.2" r="2.0"/>
<circle cx="48.74" cy="53.45" r="2.0"/>
<circle cx="49.83" cy="53.63" r="2.0"/>
<circle cx="50.93" cy="53.7" r="2.0"/>
<circle cx="52.02" cy="53.58" r="2.0"/>
<circle cx="53.12" cy="53.26" r="2.0"/>
<circle cx="54.21" cy="52.87" r="2.0"/>
<circle cx="55.31" cy="52.54" r="2.0"/>
<circle cx="56.41" cy="52.4" r="2.0"/>
<circle cx="57.5" cy="52.57" r="2.0"/>
<circle cx="58.6" cy="53" r="2.0"/>
<circle cx="59.69" cy="53.55" r="2.0"/>
<circle cx="60.79" cy="54.1" r="2.0"/>
<circle cx="61.88" cy="54.58" r="2.0"/>
<circle cx="62.98" cy="55.06" r="2.0"/>
<circle cx="64.07" cy="55.57" r="2.0"/>
<circle cx="65.17" cy="56.17" r="2.0"/>
<circle cx="66.27" cy="56.9" r="2.0"/>
<circle cx="69.55" cy="61.26" r="2.6"/>
<circle cx="72.87" cy="65.72" r="2.6"/>
<circle cx="76.2" cy="69.2" r="2.6"/>
<circle cx="79.52" cy="72.34" r="2.6"/>
<circle cx="82.85" cy="75.45" r="2.6"/>
<circle cx="86.18" cy="78.82" r="2.6"/>
<circle cx="89.5" cy="82.2" r="2.6"/>
<circle cx="92.83" cy="85.46" r="2.6"/>
<circle cx="96.16" cy="88.76" r="2.6"/>
<circle cx="99.48" cy="92.25" r="2.6"/>
<circle cx="102.81" cy="95.77" r="2.6"/>
<circle cx="106.13" cy="99.15" r="2.6"/>
<circle cx="109.46" cy="102.44" r="2.6"/>
<circle cx="112.79" cy="105.61" r="2.6"/>
<circle cx="116.11" cy="108.62" r="2.6"/>
<circle cx="119.44" cy="111.73" r="2.6"/>
<circle cx="122.77" cy="115.13" r="2.6"/>
<circle cx="126.09" cy="118.69" r="2.6"/>
<circle cx="129.42" cy="122.45" r="2.6"/>
<circle cx="132.74" cy="126.05" r="2.6"/>
<circle cx="136.07" cy="129.14" r="2.6"/>
<circle cx="139.4" cy="131.97" r="2.6"/>
<circle cx="142.72" cy="134.79" r="2.6"/>
<circle cx="146.05" cy="137.63" r="2.6"/>
<circle cx="149.38" cy="140.35" r="2.6"/>
<circle cx="152.7" cy="142.99" r="2.6"/>
<circle cx="156.03" cy="145.54" r="2.6"/>
<circle cx="159.35" cy="148.04" r="2.6"/>
<circle cx="162.68" cy="150.58" r="2.6"/>
<circle cx="166.01" cy="153.35" r="2.6"/>
<circle cx="169.33" cy="156.19" r="2.6"/>
<circle cx="172.66" cy="158.76" r="2.6"/>
<circle cx="175.99" cy="160.87" r="2.6"/>
<circle cx="179.31" cy="162.76" r="2.6"/>
<circle cx="182.64" cy="164.75" r="2.6"/>
<circle cx="185.96" cy="166.84" r="2.6"/>
<circle cx="189.29" cy="168.96" r="2.6"/>
<circle cx="192.62" cy="171.07" r="2.6"/>
<circle cx="195.94" cy="173.13" r="2.6"/>
<circle cx="199.27" cy="175.09" r="2.6"/>
<circle cx="202.6" cy="176.94" r="2.6"/>
<circle cx="205.92" cy="178.72" r="2.6"/>
<circle cx="209.25" cy="180.45" r="2.6"/>
<circle cx="212.57" cy="182.11" r="2.6"/>
<circle cx="215.9" cy="183.7" r="2.6"/>
</g>
<line x1="66.27" y1="6.5" x2="66.27" y2="189.8" class="sp"/>
<line x1="33.4" y1="163.55" x2="216" y2="163.55" class="eol"/>
<rect x="163.5" y="13.2" width="83" height="63.1" class="lg"/>
<text transform="translate(192.6,22.1) scale(0.93,1) rotate(0.05)" class="lt" text-anchor="start">Measured</text>
<text transform="translate(192.6,32.1) scale(0.93,1) rotate(0.05)" class="lt" text-anchor="start">Model1</text>
<text transform="translate(192.6,41.8) scale(0.93,1) rotate(0.05)" class="lt" text-anchor="start">Model2</text>
<text transform="translate(192.6,51.8) scale(0.93,1) rotate(0.05)" class="lt" text-anchor="start">Proposed Model</text>
<text transform="translate(192.6,62.3) scale(0.93,1) rotate(0.05)" class="lt" text-anchor="start">SP=30</text>
<text transform="translate(192.6,72.2) scale(0.93,1) rotate(0.05)" class="lt" text-anchor="start">EOL</text>
<line x1="166.3" y1="19.6" x2="190.3" y2="19.6" class="bl"/>
<path class="or" style="stroke-width:.85" d="M176.4 29.6h4.6M178.7 27.3v4.6"/><path class="or" style="stroke-width:.45" d="M177.2 28.1l3 3M177.2 31.1l3 -3"/>
<circle cx="178.7" cy="39.3" r="2.1" class="ye1"/>
<circle cx="178.7" cy="49.3" r="1.7" class="pu"/>
<line x1="166.3" y1="59.8" x2="190.3" y2="59.8" class="sp"/>
<line x1="166.3" y1="69.7" x2="190.3" y2="69.7" class="eol"/>
</g>
<text x="278.8" y="258.25" class="cap" text-anchor="middle">(a)</text>
</svg>
</body></html>
